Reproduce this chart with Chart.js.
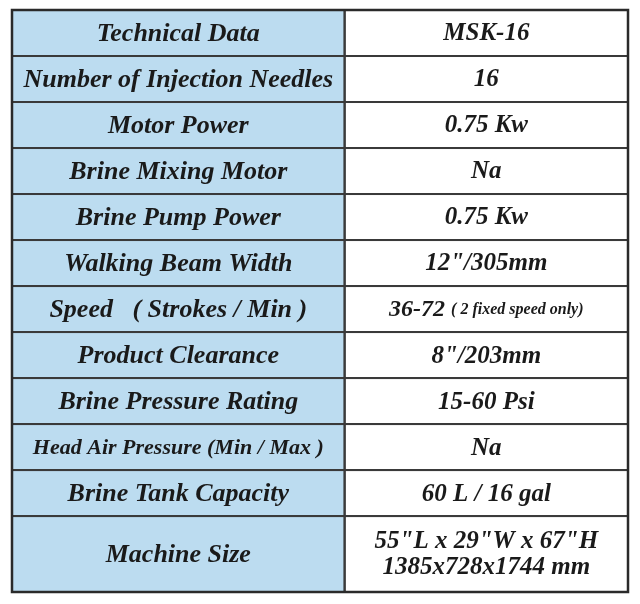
<!DOCTYPE html>
<html><head><meta charset="utf-8">
<script src="https://cdn.jsdelivr.net/npm/chart.js@4"></script>
<style>html,body{margin:0;padding:0;background:#fff}</style>
</head><body>
<canvas id="c" width="640" height="604"></canvas>
<script>
const labels = ["Technical Data","Number of Injection Needles","Motor Power","Brine Mixing Motor","Brine Pump Power","Walking Beam Width","Speed   ( Strokes / Min )","Product Clearance","Brine Pressure Rating","Head Air Pressure (Min / Max )","Brine Tank Capacity","Machine Size"];
const values = ["MSK-16","16","0.75 Kw","Na","0.75 Kw","12\"/305mm","36-72","8\"/203mm","15-60 Psi","Na","60 L / 16 gal","55\"L x 29\"W x 67\"H\n1385x728x1744 mm"];
const valueNotes = ["","","","","","","( 2 fixed speed only)","","","","",""];
const rowHeights = [1,1,1,1,1,1,1,1,1,1,1,1.65];
const labelSizes = [26,26,26,26,26,26,26,26,26,22,26,26];
const total = rowHeights.reduce((a,b)=>a+b,0);
const split = 0.54;

const tablePlugin = {
  id:'table',
  afterDraw(chart){
    const ctx = chart.ctx, xs = chart.scales.x, ys = chart.scales.y;
    const x0 = xs.getPixelForValue(0), x1 = xs.getPixelForValue(split), x2 = xs.getPixelForValue(1);
    let acc = 0;
    ctx.save();
    rowHeights.forEach((h,i)=>{
      const yt = ys.getPixelForValue(acc), yb = ys.getPixelForValue(acc+h);
      acc += h;
      ctx.fillStyle = '#bcdcf0'; ctx.fillRect(x0,yt,x1-x0,yb-yt);
      ctx.fillStyle = '#ffffff'; ctx.fillRect(x1,yt,x2-x1,yb-yt);
      ctx.strokeStyle = '#3a3a3a'; ctx.lineWidth = 2;
      ctx.strokeRect(x0,yt,x1-x0,yb-yt); ctx.strokeRect(x1,yt,x2-x1,yb-yt);
      ctx.fillStyle = '#1a1a1a'; ctx.textBaseline='middle'; ctx.textAlign='center';
      const ym = (yt+yb)/2 + 1;
      ctx.font = `italic bold ${labelSizes[i]}px "Liberation Serif"`;
      ctx.fillText(labels[i],(x0+x1)/2,ym,x1-x0-14);
      const lines = values[i].split('\n');
      const cx = (x1+x2)/2;
      if (valueNotes[i]) {
        ctx.font = 'italic bold 24px "Liberation Serif"';
        const w1 = ctx.measureText(values[i]+' ').width;
        ctx.font = 'italic bold 16px "Liberation Serif"';
        let w2 = ctx.measureText(valueNotes[i]).width;
        const maxW = x2-x1-12; const s = Math.min(1, maxW/(w1+w2));
        let sx = cx - (w1+w2)*s/2;
        ctx.textAlign='left';
        ctx.font = 'italic bold 24px "Liberation Serif"';
        ctx.fillText(values[i]+' ', sx, ym, w1*s);
        ctx.font = 'italic bold 16px "Liberation Serif"';
        ctx.fillText(valueNotes[i], sx+w1*s, ym, w2*s);
      } else {
        ctx.font = 'italic bold 25px "Liberation Serif"';
        const lh = 26;
        lines.forEach((t,k)=>{
          ctx.fillText(t,cx,ym+(k-(lines.length-1)/2)*lh,x2-x1-14);
        });
      }
    });
    ctx.strokeStyle='#2a2a2a'; ctx.lineWidth=2.5;
    ctx.strokeRect(x0,ys.getPixelForValue(0),x2-x0,ys.getPixelForValue(total)-ys.getPixelForValue(0));
    ctx.restore();
  }
};

new Chart(document.getElementById('c'),{
  type:'scatter',
  data:{datasets:[{data:[]}]},
  options:{
    responsive:false, animation:false,
    layout:{padding:{left:12,right:12,top:10,bottom:12}},
    plugins:{legend:{display:false},tooltip:{enabled:false}},
    scales:{
      x:{type:'linear',min:0,max:1,display:false},
      y:{type:'linear',min:0,max:total,reverse:true,display:false}
    }
  },
  plugins:[tablePlugin]
});
</script>
</body></html>
